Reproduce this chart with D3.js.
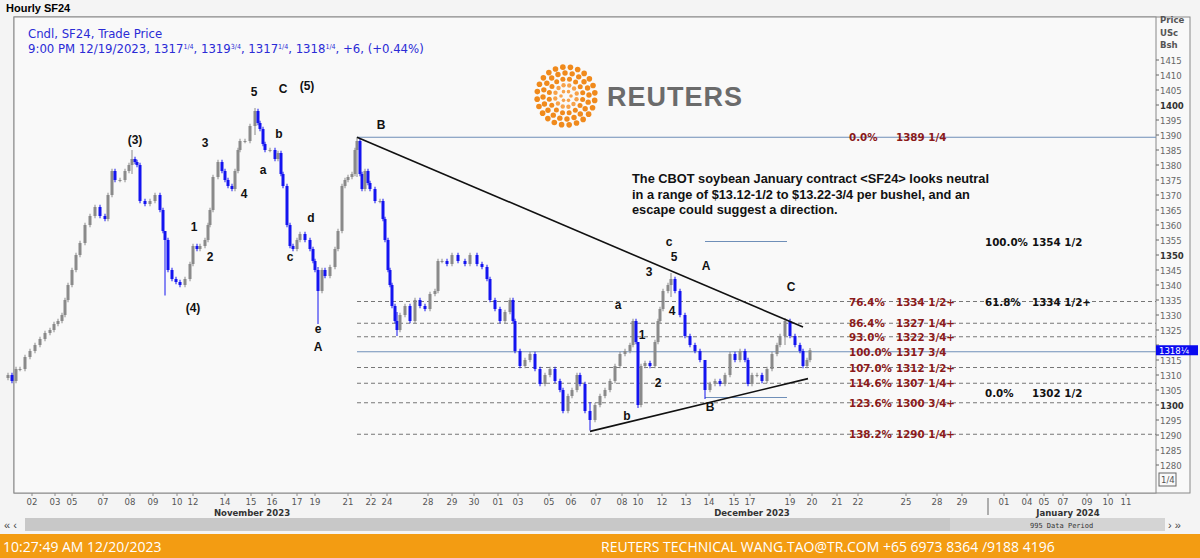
<!DOCTYPE html>
<html><head><meta charset="utf-8">
<script src="https://cdn.jsdelivr.net/npm/d3@7"></script>
<style>body{margin:0;background:#f0f0f0;font-family:"Liberation Sans",Arial,sans-serif}</style>
</head><body><svg id="c" width="1200" height="558"></svg>
<script>
// ---- data: [slot, close] (slot = chart time slot)
const bars = [[8,1310],[12,1308],[16,1312],[20,1312],[25,1316],[30,1318],[35,1320],[40,1322],[45,1324],[50,1325],[54,1327],[58,1328],[62,1330],[65,1335],[68,1340],[72,1345],[76,1350],[80,1354],[85,1360],[90,1363],[95,1366],[100,1363],[105,1362],[108,1370],[112,1378],[115,1375],[120,1375],[125,1378],[129,1380],[132,1382],[135,1381],[137,1380],[140,1368],[145,1367],[150,1368],[155,1370],[160,1365],[163,1358],[165,1355],[168,1345],[172,1342],[176,1341],[180,1340],[185,1342],[190,1347],[193,1353],[197,1352],[200,1353],[205,1355],[208,1360],[210,1365],[213,1376],[218,1381],[222,1378],[225,1375],[228,1373],[232,1372],[235,1378],[238,1385],[240,1388],[245,1388],[250,1393],[255,1398],[258,1394],[260,1392],[263,1387],[265,1385],[270,1385],[275,1382],[278,1384],[281,1377],[283,1373],[287,1360],[290,1353],[293,1352],[297,1355],[300,1357],[305,1355],[310,1352],[313,1348],[315,1345],[318,1338],[322,1345],[325,1343],[330,1346],[335,1352],[338,1358],[342,1373],[345,1375],[348,1376],[352,1377],[355,1385],[357,1388],[360,1377],[362,1372],[365,1378],[368,1374],[370,1372],[375,1368],[380,1368],[383,1362],[385,1355],[388,1345],[390,1340],[392,1333],[395,1328],[397,1325],[400,1330],[405,1333],[410,1328],[415,1335],[420,1333],[425,1332],[430,1337],[435,1338],[438,1348],[442,1348],[447,1347],[452,1350],[458,1348],[465,1347],[470,1350],[477,1347],[482,1346],[487,1342],[490,1335],[495,1332],[500,1328],[505,1331],[510,1335],[513,1328],[515,1318],[520,1313],[525,1315],[530,1317],[535,1312],[540,1307],[545,1310],[550,1312],[555,1308],[560,1305],[563,1298],[568,1303],[572,1305],[577,1310],[580,1307],[585,1298],[590,1295],[595,1300],[600,1303],[605,1305],[610,1308],[615,1313],[620,1317],[625,1318],[630,1320],[633,1328],[636,1321],[638,1300],[641,1313],[645,1314],[650,1313],[655,1321],[658,1328],[660,1332],[663,1338],[668,1340],[671,1342],[675,1338],[680,1330],[685,1323],[690,1320],[695,1318],[700,1315],[705,1305],[710,1307],[715,1308],[720,1307],[725,1310],[730,1317],[735,1315],[740,1318],[745,1315],[748,1307],[752,1310],[757,1310],[762,1308],[767,1312],[772,1317],[777,1320],[780,1323],[785,1328],[790,1323],[795,1320],[800,1318],[803,1313],[807,1315],[810,1318.25]];
// notable wicks: [slot, high, low]
const wicks = [[132,1385,1377],[165,1358,1336.5],[255,1399,1390],[318,1346,1327],[357,1389.25,1376],[397,1331,1323],[590,1301,1291.5],[638,1318,1299],[705,1312,1302],[785,1329,1320],[671,1344,1336]];
const xTicks = [[32,"02"],[55,"03"],[72,"05"],[103,"07"],[130,"08"],[153,"09"],[177,"10"],[193,"12"],[225,"14"],[251,"15"],[272,"16"],[297,"17"],[315,"19"],[348,"21"],[371,"22"],[387,"24"],[428,"28"],[452,"29"],[474,"30"],[498,"01"],[518,"03"],[549,"05"],[571,"06"],[596,"07"],[622,"08"],[638,"10"],[662,"12"],[686,"13"],[709,"14"],[734,"15"],[750,"17"],[790,"19"],[812,"20"],[837,"21"],[858,"22"],[906,"25"],[937,"28"],[962,"29"],[1004,"01"],[1027,"04"],[1044,"05"],[1063,"07"],[1087,"09"],[1108,"10"],[1126,"11"]];
const months = [[252,"November 2023"],[752,"December 2023"],[1068,"January 2024"]];
const yTicks = d3.range(1280,1416,5);
const fibA = [["0.0%","1389 1/4",1389.25],["76.4%","1334 1/2+",1334.5],["86.4%","1327 1/4+",1327.25],["93.0%","1322 3/4+",1322.75],["100.0%","1317 3/4",1317.75],["107.0%","1312 1/2+",1312.5],["114.6%","1307 1/4+",1307.25],["123.6%","1300 3/4+",1300.75],["138.2%","1290 1/4+",1290.25]];
const fibB = [["100.0%","1354 1/2",1354.5],["61.8%","1334 1/2+",1334.5],["0.0%","1302 1/2",1302.5]];
const waveLabels = [["(3)",135,1387],["(4)",193,1331],["(5)",307,1405],["C",283,1404],["5",254,1403],["3",205,1386],["4",244,1369],["1",194,1358],["2",210,1348],["a",263,1377],["b",279,1389],["c",290,1348],["d",311,1361],["e",318,1324],["A",318,1318],["B",381,1392],["a",618,1332],["1",642,1322],["2",658,1306],["3",649,1343],["4",672,1330],["5",674,1348],["c",669,1353],["A",706,1345],["C",791,1338],["B",710,1298],["b",627,1295]];
const lastPrice = 1318.25;

const svg = d3.select("#c");
const x = d3.scaleLinear().domain([0,1156]).range([0,1156]);
const y = d3.scaleLinear().domain([1390,1290]).range([135,435]);
const L=14, R=1156, T=17, B=493;
const AX = "Tahoma,'DejaVu Sans Condensed','DejaVu Sans',sans-serif";
const FB = "'DejaVu Sans',Tahoma,sans-serif";

svg.append("rect").attr("width",1200).attr("height",558).attr("fill","#f4f4f4");
svg.append("text").attr("x",6).attr("y",12).attr("font-size",11).attr("font-weight","bold").text("Hourly SF24");
svg.append("rect").attr("x",L).attr("y",T).attr("width",1190-L).attr("height",B-T).attr("fill","#f9f9f9").attr("stroke","#888");
svg.append("rect").attr("x",L).attr("y",T).attr("width",R-L).attr("height",B-T).attr("fill","#f9f9f9").attr("stroke","#888");

// logo
const lg = svg.append("g");
const cx=566, cy=96;
[[5,6],[11,12],[17,16],[23,20],[29,24]].forEach(([r,n],k)=>{
  for(let i=0;i<n;i++){const a=i/n*2*Math.PI+k*0.3;
    lg.append("circle").attr("cx",cx+r*Math.cos(a)).attr("cy",cy+r*Math.sin(a)).attr("r",[1.8,2.2,2.5,2.7,2.8][k]).attr("fill",k<2?"#f7a24a":"#f08a1c");}
});
lg.append("text").attr("x",607).attr("y",106).attr("font-size",27).attr("font-weight","bold").attr("font-family","'Liberation Sans',Arial").attr("fill","#6b6b6b").attr("letter-spacing",1).text("REUTERS");

// header text
const h = svg.append("g").attr("fill","#2b2bd6").attr("font-size",13).attr("font-family",AX);
h.append("text").attr("x",28).attr("y",38).text("Cndl, SF24, Trade Price");
const t2 = h.append("text").attr("x",28).attr("y",53);
const parts=[["9:00 PM 12/19/2023, 1317",0],["1/4",1],[", 1319",0],["3/4",1],[", 1317",0],["1/4",1],[", 1318",0],["1/4",1],[", +6, (+0.44%)",0]];
parts.forEach(([s,sup],i)=>{t2.append("tspan").attr("font-size",sup?7:13).attr("dy",sup?-4:(i?4:0)).text(s);});

// fib lines
fibA.forEach(([p,v,pr],i)=>{
  const solid = i===0||i===4;
  svg.append("line").attr("x1",x(357)).attr("x2",R).attr("y1",y(pr)).attr("y2",y(pr))
    .attr("stroke",solid?"#6f8fb8":"#777").attr("stroke-dasharray",solid?null:"4,3").attr("stroke-width",1);
  const g=svg.append("g").attr("font-size",10.3).attr("font-weight","bold").attr("fill","#8b1a1a").attr("font-family",FB);
  g.append("text").attr("x",849).attr("y",y(pr)+4).text(p);
  g.append("text").attr("x",896).attr("y",y(pr)+4).text(v);
});
fibB.forEach(([p,v,pr],i)=>{
  const g=svg.append("g").attr("font-size",10.3).attr("font-weight","bold").attr("fill","#111").attr("font-family",FB);
  g.append("text").attr("x",985).attr("y",y(pr)+(i===2?-1:4)).text(p);
  g.append("text").attr("x",i===0?1032:1032).attr("y",y(pr)+(i===2?-1:4)).text(v);
});
svg.append("line").attr("x1",x(705)).attr("x2",x(787)).attr("y1",y(1354.5)).attr("y2",y(1354.5)).attr("stroke","#6f8fb8");
svg.append("line").attr("x1",x(705)).attr("x2",x(787)).attr("y1",y(1302.5)).attr("y2",y(1302.5)).attr("stroke","#6f8fb8");

// candles
const wk = new Map(wicks.map(d=>[d[0],d]));
const cg = svg.append("g");
bars.forEach((d,i)=>{
  const o = i? bars[i-1][1] : d[1]-1, c=d[1];
  const w = wk.get(d[0]);
  const hi = w? w[1] : Math.max(o,c)+0.75, lo = w? w[2] : Math.min(o,c)-0.75;
  const col = c<o? "#1414f0" : "#8a8a8a";
  cg.append("line").attr("x1",x(d[0])).attr("x2",x(d[0])).attr("y1",y(hi)).attr("y2",y(lo)).attr("stroke",col).attr("stroke-width",1);
  cg.append("rect").attr("x",x(d[0])-1.5).attr("width",3).attr("y",y(Math.max(o,c))).attr("height",Math.max(1,y(Math.min(o,c))-y(Math.max(o,c)))).attr("fill",col);
});

// trendlines
svg.append("line").attr("x1",x(357)).attr("y1",y(1389.25)).attr("x2",x(803)).attr("y2",y(1326)).attr("stroke","#111").attr("stroke-width",1.6);
svg.append("line").attr("x1",x(590)).attr("y1",y(1291.2)).attr("x2",x(808)).attr("y2",y(1308.8)).attr("stroke","#111").attr("stroke-width",1.6);

// wave labels
waveLabels.forEach(([s,sx,p])=>svg.append("text").attr("x",x(sx)).attr("y",y(p)).attr("text-anchor","middle")
  .attr("font-size",12).attr("font-weight","bold").attr("font-family","Arial,Liberation Sans").attr("fill","#111").text(s));

// comment
const note=["The CBOT soybean January contract <SF24> looks neutral","in a range of $13.12-1/2 to $13.22-3/4 per bushel, and an","escape could suggest a direction."];
note.forEach((s,i)=>svg.append("text").attr("x",632).attr("y",183+i*15.5).attr("font-size",12.8).attr("font-weight","bold").attr("font-family","Arial,Liberation Sans").attr("fill","#111").text(s));

// y axis
const ya = svg.append("g").attr("font-size",9.5).attr("fill","#555").attr("font-family",AX);
["Price","USc","Bsh"].forEach((s,i)=>ya.append("text").attr("x",1160).attr("y",23+i*12.5).attr("font-weight","bold").text(s));
yTicks.forEach(v=>{
  ya.append("line").attr("x1",R).attr("x2",R+3).attr("y1",y(v)).attr("y2",y(v)).attr("stroke","#666");
  if(v===1320) return;
  ya.append("text").attr("x",R+4).attr("y",y(v)+3.5).attr("font-weight",v%50===0?"bold":"normal").attr("fill",v%50===0?"#333":"#666").text(v);
});
svg.append("rect").attr("x",R).attr("y",y(lastPrice)-5).attr("width",42).attr("height",10).attr("fill","#0a0af0");
svg.append("text").attr("x",R+3).attr("y",y(lastPrice)+3.5).attr("font-size",9.5).attr("font-family",AX).attr("fill","#fff").text("1318¼");
svg.append("rect").attr("x",1159).attr("y",473).attr("width",17).attr("height",13).attr("fill","none").attr("stroke","#666");
svg.append("text").attr("x",1161).attr("y",483).attr("font-size",9.5).attr("font-family",AX).attr("fill","#555").text("1/4");

// x axis
const xa = svg.append("g").attr("font-size",9.5).attr("fill","#555").attr("font-family",AX);
xTicks.forEach(([s,l])=>{
  xa.append("line").attr("x1",x(s)).attr("x2",x(s)).attr("y1",B).attr("y2",B+3).attr("stroke","#888");
  xa.append("text").attr("x",x(s)).attr("y",B+12).attr("text-anchor","middle").text(l);
});
months.forEach(([s,l])=>xa.append("text").attr("x",x(s)).attr("y",B+23).attr("text-anchor","middle").attr("font-weight","bold").attr("fill","#333").text(l));
svg.append("line").attr("x1",x(988)).attr("x2",x(988)).attr("y1",B+5).attr("y2",B+22).attr("stroke","#666");

// scrollbar
svg.append("rect").attr("x",25).attr("y",518).attr("width",1140).attr("height",13).attr("fill","#c8c8c8");
svg.append("rect").attr("x",950).attr("y",518).attr("width",215).attr("height",13).attr("fill","#d4d4d4");
svg.append("text").attr("x",1030).attr("y",528).attr("font-size",7).attr("font-family","DejaVu Sans Mono").attr("fill","#333").text("995 Data Period");
svg.append("text").attr("x",4).attr("y",529).attr("font-size",11).attr("fill","#444").text("« ‹");
svg.append("text").attr("x",1168).attr("y",529).attr("font-size",11).attr("fill","#444").text("› »");

// footer
svg.append("rect").attr("x",0).attr("y",534).attr("width",1200).attr("height",24).attr("fill","#f39c12");
svg.append("text").attr("x",3).attr("y",552).attr("font-size",14).attr("fill","#fff").attr("font-family","Open Sans,Arial").text("10:27:49 AM 12/20/2023");
svg.append("text").attr("x",601).attr("y",552).attr("font-size",14).attr("fill","#fff").attr("font-family","Open Sans,Arial").text("REUTERS TECHNICAL  WANG.TAO@TR.COM  +65 6973 8364 /9188 4196");
</script></body></html>
